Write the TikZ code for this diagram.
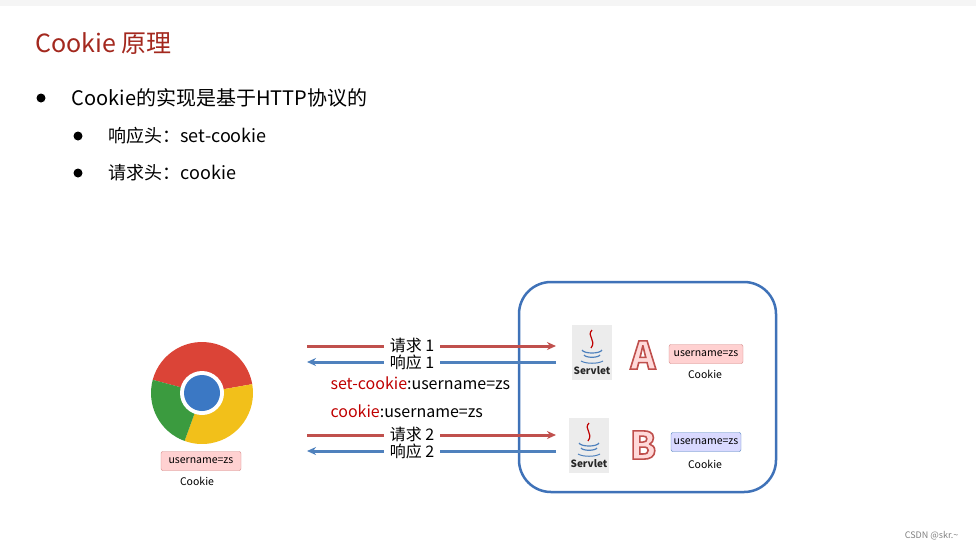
\documentclass[tikz,border=0pt]{standalone}
\usepackage{fontspec}
\setmainfont{Noto Sans CJK SC}
\usetikzlibrary{arrows.meta}
\definecolor{tred}{HTML}{A3281E}
\definecolor{ared}{HTML}{C0504D}
\definecolor{ablue}{HTML}{4F81BD}
\definecolor{bxblue}{HTML}{3F72B8}
\definecolor{cred}{HTML}{DB4437}
\definecolor{cgreen}{HTML}{3B9B3F}
\definecolor{cyellow}{HTML}{F2C01A}
\definecolor{cblue}{HTML}{3B78C4}
\newcommand{\outlined}[1]{\special{pdf:code 2 Tr 1.6 w 0.75 0.31 0.30 RG}#1\special{pdf:code 0 Tr}}
\tikzset{
 px/.style={x=1pt,y=-1pt},
 rarr/.style={draw=ared,line width=3pt,-{Stealth[length=9pt,width=8pt]}},
 barr/.style={draw=ablue,line width=3pt,-{Stealth[length=9pt,width=8pt]}},
 alab/.style={fill=white,inner xsep=6pt,inner ysep=0pt,font=\fontsize{16}{16}\selectfont},
 pinkbox/.style={draw=ared!70,fill=red!18,rounded corners=2pt,minimum width=74pt,minimum height=19pt,inner sep=1pt,font=\fontsize{10.5}{10.5}\selectfont},
 bluebox/.style={draw=ablue,fill=blue!15,rounded corners=2pt,minimum width=70pt,minimum height=19pt,inner sep=1pt,font=\fontsize{10.5}{10.5}\selectfont},
 cklab/.style={font=\fontsize{10.5}{10.5}\selectfont},
 letter/.style={font=\fontsize{38}{38}\selectfont\bfseries,inner sep=0pt,text=red!15},
}
\begin{document}
\begin{tikzpicture}[px]
\useasboundingbox (0,0) rectangle (976,550);
\fill[gray!8] (0,0) rectangle (976,6);
% texts
\node[anchor=west,text=tred,font=\fontsize{25}{25}\selectfont] (title) at (32,44) {Cookie 原理};
\fill (41,98) circle (4.5pt);
\node[anchor=west,font=\fontsize{20}{20}\selectfont] (b1) at (68,98) {Cookie的实现是基于HTTP协议的};
\fill (78,136) circle (4.5pt);
\node[anchor=west,font=\fontsize{18}{18}\selectfont] (b2) at (105,136) {响应头：set-cookie};
\fill (78,173) circle (4.5pt);
\node[anchor=west,font=\fontsize{18}{18}\selectfont] (b3) at (105,173) {请求头：cookie};
% chrome
\begin{scope}[shift={(202,393)}]
\fill[cred] (0,0) -- (-165:51) arc[start angle=-165,end angle=-10,radius=51] -- cycle;
\fill[cyellow] (0,0) -- (-10:51) arc[start angle=-10,end angle=110,radius=51] -- cycle;
\fill[cgreen] (0,0) -- (110:51) arc[start angle=110,end angle=195,radius=51] -- cycle;
\fill[white] (0,0) circle (22);
\fill[cblue] (0,0) circle (18);
\end{scope}
\node[pinkbox,minimum width=80pt] (ck0) at (201,461) {username=zs};
\node[cklab] (ck0l) at (197,481) {Cookie};
% server box
\draw[bxblue,line width=2.5pt,rounded corners=32pt] (519,282) rectangle (776,492);
% servlets
\foreach \n/\x/\y in {s1/592/352,s2/589/445}{
 \begin{scope}[shift={(\x,\y)}]
 \fill[gray!15] (-20,-27) rectangle (20,28);
 \draw[red!75!black,line width=1.2pt] (0,-22) .. controls (-6,-16) and (5,-12) .. (-1,-4);
 \draw[ablue,line width=1.2pt] (-10,-2) .. controls (-8,2) and (8,2) .. (10,-2);
 \draw[ablue,line width=1.2pt] (-8,3) .. controls (-6,6) and (6,6) .. (8,3);
 \draw[ablue,line width=1pt] (-11,9) .. controls (-6,12) and (6,12) .. (11,9);
 \node[font=\fontsize{10}{10}\selectfont\bfseries,text=gray!30!black] (\n) at (0,19) {Servlet};
 \end{scope}}
\node[letter] (A) at (643,355) {\outlined{A}};
\node[letter] (B) at (643,445) {\outlined{B}};
\node[pinkbox] (ckA) at (706,354) {username=zs};
\node[cklab] (ckAl) at (705,374) {Cookie};
\node[bluebox] (ckB) at (706,442) {username=zs};
\node[cklab] (ckBl) at (705,464) {Cookie};
% arrows
\coordinate (l1) at (307,346); \coordinate (r1) at (556,346);
\coordinate (l2) at (307,362); \coordinate (r2) at (556,362);
\coordinate (l3) at (307,435); \coordinate (r3) at (556,435);
\coordinate (l4) at (307,451); \coordinate (r4) at (556,451);
\draw[rarr] (l1) -- (r1); \node[alab] (q1) at (412,345) {请求 1};
\draw[barr] (r2) -- (l2); \node[alab] (p1) at (412,362) {响应 1};
\draw[rarr] (l3) -- (r3); \node[alab] (q2) at (412,434) {请求 2};
\draw[barr] (r4) -- (l4); \node[alab] (p2) at (412,451) {响应 2};
\node[anchor=west,font=\fontsize{16}{16}\selectfont] (sc) at (327,383) {\textcolor{red!75!black}{set-cookie}:username=zs};
\node[anchor=west,font=\fontsize{16}{16}\selectfont] (c) at (327,411) {\textcolor{red!75!black}{cookie}:username=zs};
\node[anchor=east,text=gray,font=\fontsize{9}{9}\selectfont] (wm) at (962,536) {CSDN @skr.\textasciitilde};
\end{tikzpicture}
\end{document}
